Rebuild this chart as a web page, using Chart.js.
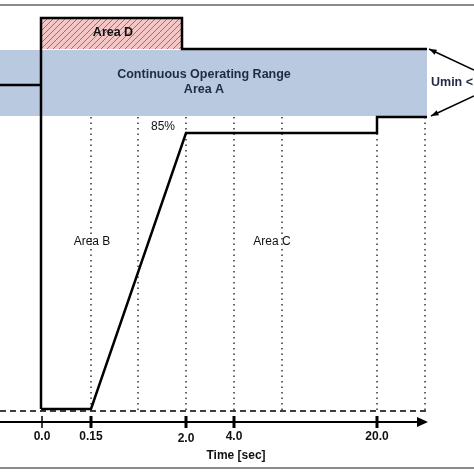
<!DOCTYPE html>
<html><head><meta charset="utf-8">
<script src="https://cdn.jsdelivr.net/npm/chart.js@4/dist/chart.umd.min.js"></script>
<style>html,body{margin:0;padding:0;background:#fff}#wrap{width:474px;height:474px}</style>
</head><body><div id="wrap"><canvas id="c"></canvas></div>
<script>
// schematic layout units (0..474 both ways, y grows downward)
const tickPos = [42, 91, 186, 234, 377];
const tickLabels = ['0.0', '0.15', '2.0', '4.0', '20.0'];
const dottedPos = [91, 138, 186, 234, 282, 377, 425];
const limitX = [0, 41, 41, 41, 182, 182, 427];
const limitY = [85, 85, 409, 18, 18, 49, 49];
const faultX = [41, 91, 186, 377, 377, 427];
const faultY = [409, 409, 133, 133, 117, 117];
const dashedX = [0, 427];
const dashedY = [411, 411];

function pts(xs, ys) { return xs.map((x, i) => ({x: x, y: ys[i]})); }

const pat = document.createElement('canvas');
pat.width = 6; pat.height = 6;
const pc = pat.getContext('2d');
pc.fillStyle = '#f4c6c6'; pc.fillRect(0, 0, 6, 6);
pc.strokeStyle = '#d9534f'; pc.lineWidth = 1;
pc.beginPath(); pc.moveTo(0, 6); pc.lineTo(6, 0); pc.stroke();

const deco = {
  id: 'deco',
  beforeDatasetsDraw(chart) {
    const c = chart.ctx, X = chart.scales.x, Y = chart.scales.y;
    const px = v => X.getPixelForValue(v), py = v => Y.getPixelForValue(v);
    c.save();
    c.fillStyle = '#b9c9df';
    c.fillRect(px(0), py(50), px(427) - px(0), py(116) - py(50));
    c.fillStyle = c.createPattern(pat, 'repeat');
    c.fillRect(px(41), py(18), px(182) - px(41), py(49) - py(18));
    c.strokeStyle = '#666'; c.lineWidth = 1.5;
    c.beginPath(); c.moveTo(0, py(5)); c.lineTo(474, py(5));
    c.moveTo(0, py(468)); c.lineTo(474, py(468)); c.stroke();
    c.strokeStyle = '#000'; c.lineWidth = 1.2; c.setLineDash([1.5, 4]);
    dottedPos.forEach(x => { c.beginPath(); c.moveTo(px(x), py(117)); c.lineTo(px(x), py(410)); c.stroke(); });
    c.setLineDash([]);
    c.lineWidth = 2;
    c.beginPath(); c.moveTo(px(0), py(422)); c.lineTo(px(420), py(422)); c.stroke();
    c.fillStyle = '#000';
    c.beginPath(); c.moveTo(px(428), py(422)); c.lineTo(px(417), py(417)); c.lineTo(px(417), py(427)); c.closePath(); c.fill();
    tickPos.forEach(x => { c.lineWidth = x === 42 ? 1.5 : 3; c.beginPath(); c.moveTo(px(x), py(416)); c.lineTo(px(x), py(428)); c.stroke(); });
    c.restore();
  },
  afterDatasetsDraw(chart) {
    const c = chart.ctx, X = chart.scales.x, Y = chart.scales.y;
    const px = v => X.getPixelForValue(v), py = v => Y.getPixelForValue(v);
    c.save();
    c.fillStyle = '#111'; c.textAlign = 'center'; c.textBaseline = 'middle';
    c.font = 'bold 12px Arial, "Liberation Sans"';
    tickLabels.forEach((t, i) => c.fillText(t, px(tickPos[i]), py(i === 2 ? 439 : 437)));
    c.fillText('Time [sec]', px(236), py(456));
    c.fillStyle = '#1f2a44';
    c.font = 'bold 12.5px Arial, "Liberation Sans"';
    c.fillText('Continuous Operating Range', px(204), py(75));
    c.fillText('Area A', px(204), py(90));
    c.fillText('Umin <', px(452), py(83));
    c.fillStyle = '#111';
    c.fillText('Area D', px(113), py(33));
    c.font = '12px Arial, "Liberation Sans"';
    c.fillText('85%', px(163), py(127));
    c.fillText('Area B', px(92), py(242));
    c.fillText('Area C', px(272), py(242));
    c.strokeStyle = '#000'; c.lineWidth = 1.5;
    [[474, 70, 429, 49], [474, 96, 431, 116]].forEach(a => {
      const x1 = px(a[0]), y1 = py(a[1]), x2 = px(a[2]), y2 = py(a[3]);
      c.beginPath(); c.moveTo(x1, y1); c.lineTo(x2, y2); c.stroke();
      const ang = Math.atan2(y2 - y1, x2 - x1);
      c.beginPath(); c.moveTo(x2, y2);
      c.lineTo(x2 - 8 * Math.cos(ang - 0.35), y2 - 8 * Math.sin(ang - 0.35));
      c.lineTo(x2 - 8 * Math.cos(ang + 0.35), y2 - 8 * Math.sin(ang + 0.35));
      c.closePath(); c.fillStyle = '#000'; c.fill();
    });
    c.restore();
  }
};

new Chart(document.getElementById('c'), {
  type: 'scatter',
  data: { datasets: [
    { data: pts(dashedX, dashedY), showLine: true, borderColor: '#000', borderWidth: 1.5, borderDash: [6, 4], pointRadius: 0 },
    { data: pts(limitX, limitY), showLine: true, borderColor: '#000', borderWidth: 2.5, pointRadius: 0 },
    { data: pts(faultX, faultY), showLine: true, borderColor: '#000', borderWidth: 2.5, pointRadius: 0 }
  ]},
  options: {
    responsive: true, maintainAspectRatio: false, animation: false,
    layout: { padding: 0 },
    plugins: { legend: { display: false }, tooltip: { enabled: false } },
    scales: {
      x: { type: 'linear', min: 0, max: 474, display: false },
      y: { type: 'linear', min: 0, max: 474, reverse: true, display: false }
    }
  },
  plugins: [deco]
});
</script></body></html>
